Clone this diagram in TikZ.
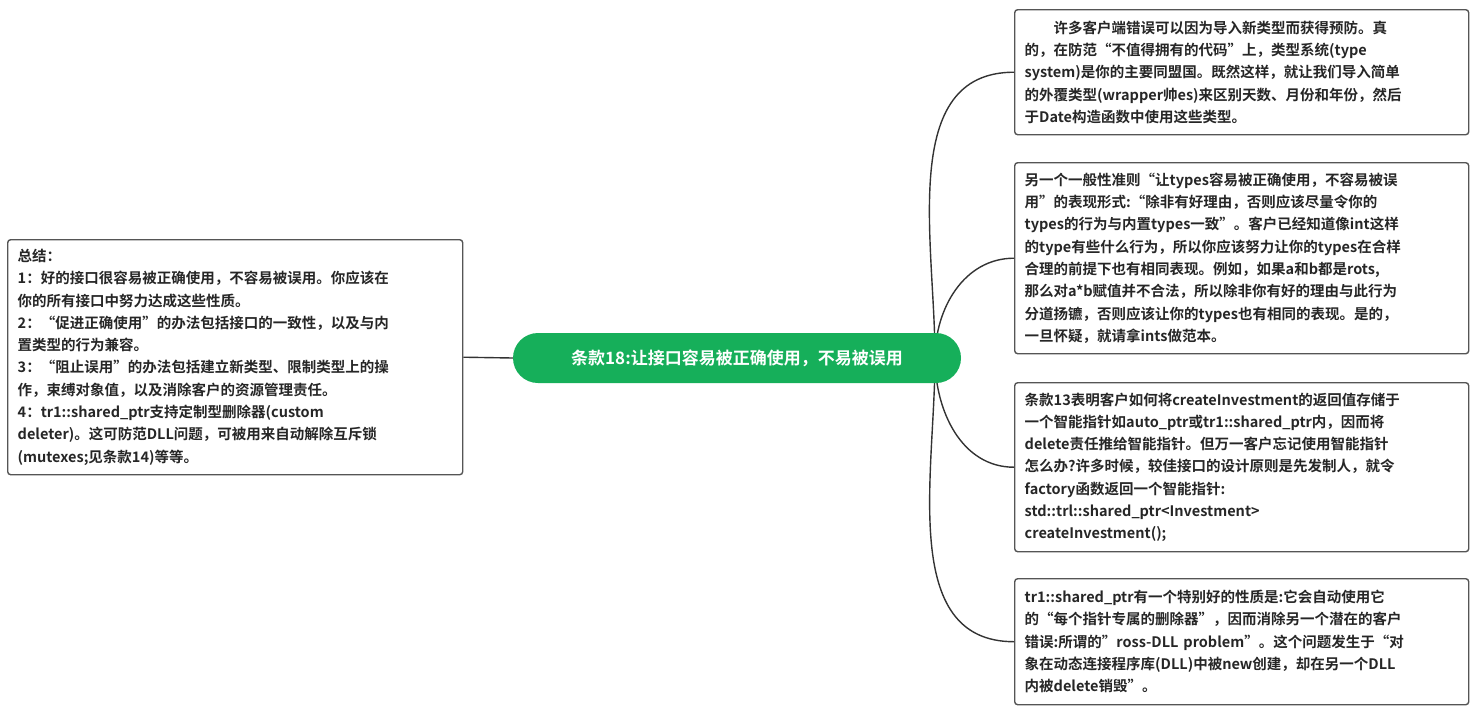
\documentclass[tikz,border=0pt]{standalone}
\usepackage{fontspec}
\setmainfont{Noto Sans CJK SC}[BoldFont={* Bold}]
\definecolor{grn}{RGB}{22,175,90}
\definecolor{bd}{RGB}{85,85,85}
\begin{document}
\begin{tikzpicture}[x=1pt,y=-1pt,
  tbox/.style={draw=bd,line width=1.4pt,rounded corners=3pt,align=left,anchor=north west,inner sep=0pt,font=\fontsize{14.5}{22.3}\selectfont\bfseries,text=black!85},
  conn/.style={draw=black!80,line width=1.4pt}]
\useasboundingbox (0,0) rectangle (1479,716);
\node[tbox,minimum width=454pt,minimum height=125pt,text width=434pt] (r1) at (1014,9) {%
\hspace*{29pt}许多客户端错误可以因为导入新类型而获得预防。真\\
的，在防范“不值得拥有的代码”上，类型系统(type\\
system)是你的主要同盟国。既然这样，就让我们导入简单\\
的外覆类型(wrapper帅es)来区别天数、月份和年份，然后\\
于Date构造函数中使用这些类型。};
\node[tbox,minimum width=454pt,minimum height=191pt,text width=434pt] (r2) at (1014,162) {%
另一个一般性准则“让types容易被正确使用，不容易被误\\
用”的表现形式:“除非有好理由，否则应该尽量令你的\\
types的行为与内置types一致”。客户已经知道像int这样\\
的type有些什么行为，所以你应该努力让你的types在合样\\
合理的前提下也有相同表现。例如，如果a和b都是rots,\\
那么对a*b赋值并不合法，所以除非你有好的理由与此行为\\
分道扬镳，否则应该让你的types也有相同的表现。是的，\\
一旦怀疑，就请拿ints做范本。};
\node[tbox,minimum width=454pt,minimum height=169pt,text width=434pt] (r3) at (1014,382) {%
条款13表明客户如何将createInvestment的返回值存储于\\
一个智能指针如auto\_ptr或tr1::shared\_ptr内，因而将\\
delete责任推给智能指针。但万一客户忘记使用智能指针\\
怎么办?许多时候，较佳接口的设计原则是先发制人，就令\\
factory函数返回一个智能指针:\\
std::trl::shared\_ptr<Investment>\\
createInvestment();};
\node[tbox,minimum width=454pt,minimum height=126pt,text width=434pt] (r4) at (1014,578) {%
tr1::shared\_ptr有一个特别好的性质是:它会自动使用它\\
的“每个指针专属的删除器”，因而消除另一个潜在的客户\\
错误:所谓的"ross-DLL problem"。这个问题发生于“对\\
象在动态连接程序库(DLL)中被new创建，却在另一个DLL\\
内被delete销毁”。};
\node[tbox,minimum width=455pt,minimum height=235pt,text width=435pt] (l) at (7,239) {%
总结：\\
1：好的接口很容易被正确使用，不容易被误用。你应该在\\
你的所有接口中努力达成这些性质。\\
2：“促进正确使用”的办法包括接口的一致性，以及与内\\
置类型的行为兼容。\\
3：“阻止误用”的办法包括建立新类型、限制类型上的操\\
作，束缚对象值，以及消除客户的资源管理责任。\\
4：tr1::shared\_ptr支持定制型删除器(custom\\
deleter)。这可防范DLL问题，可被用来自动解除互斥锁\\
(mutexes;见条款14)等等。};
\coordinate (o) at (935,358);
\draw[conn] (o) to[out=90,in=180] (r1.west);
\draw[conn] (o) to[out=90,in=180] (r2.west);
\draw[conn] (o) to[out=-90,in=180] (r3.west);
\draw[conn] (o) to[out=-90,in=180] (r4.west);
\node[fill=grn,rounded corners=25pt,minimum width=448pt,minimum height=50pt,text=white,font=\fontsize{17}{20}\selectfont\bfseries] (c) at (737,358) {条款18:让接口容易被正确使用，不易被误用};
\draw[conn] (l.east) -- (c.west);
\end{tikzpicture}
\end{document}
